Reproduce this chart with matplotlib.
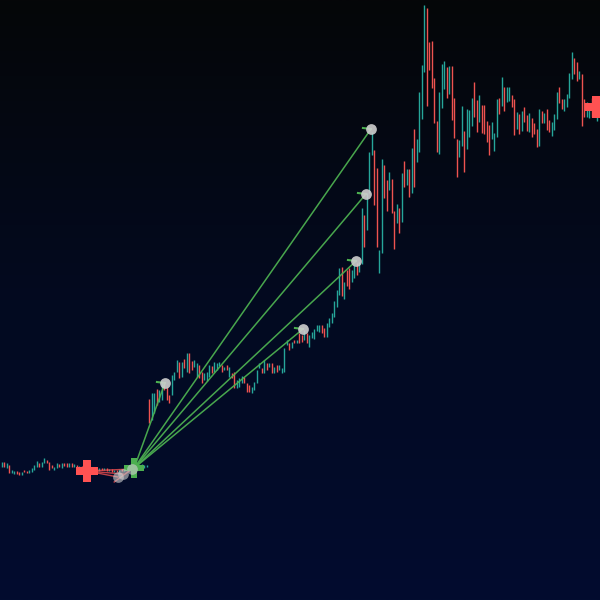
import numpy as np
import matplotlib.pyplot as plt
from matplotlib.colors import LinearSegmentedColormap

# candle data (open / close), one entry per bar
opens = [
    133, 138, 132, 135, 127, 126, 129, 128, 125, 130,
    129, 127, 128, 130, 133, 137, 133, 137, 140, 138,
    135, 130, 132, 136, 132, 137, 137, 133, 137, 133,
    135, 132, 134, 131, 133, 130, 132, 130, 131, 129,
    132, 130, 132, 129, 131, 128, 130, 128, 131, 129,
    132, 130, 133, 131, 134, 132, 133, 132, 133, 201,
    180, 187, 211, 198, 200, 217, 213, 205, 205, 220,
    228, 238, 223, 241, 228, 247, 239, 233, 223, 235,
    228, 220, 219, 223, 234, 228, 230, 234, 235, 230,
    235, 223, 227, 228, 212, 213, 217, 223, 217, 215,
    207, 210, 217, 232, 232, 227, 237, 233, 237, 227,
    235, 230, 227, 228, 255, 257, 252, 260, 257, 267,
    265, 260, 267, 253, 262, 261, 269, 268, 275, 272,
    263, 273, 277, 283, 293, 305, 333, 301, 330, 332,
    318, 322, 337, 328, 336, 385, 370, 407, 445, 450,
    432, 327, 347, 435, 420, 410, 421, 389, 377, 392,
    378, 439, 415, 431, 407, 471, 438, 448, 481, 528,
    592, 558, 559, 522, 479, 446, 492, 511, 533, 506,
    534, 502, 461, 443, 454, 469, 451, 463, 474, 518,
    500, 478, 495, 495, 479, 475, 461, 449, 463, 502,
    494, 513, 498, 499, 505, 501, 471, 486, 469, 493,
    485, 468, 482, 477, 471, 454, 489, 477, 491, 480,
    464, 470, 481, 513, 501, 489, 493, 502, 521, 542,
    538, 521, 526, 501, 483, 482, 502, 500, 479,
]
closes = [
    138, 133, 137, 127, 130, 129, 126, 125, 128, 128,
    127, 130, 132, 135, 139, 133, 138, 142, 137, 130,
    132, 133, 137, 133, 137, 134, 133, 137, 133, 136,
    132, 134, 131, 133, 130, 132, 130, 131, 129, 132,
    130, 132, 129, 131, 128, 130, 128, 131, 129, 132,
    130, 133, 131, 134, 132, 134, 136, 135, 135, 177,
    207, 207, 195, 210, 217, 210, 200, 197, 225, 228,
    240, 222, 238, 232, 247, 227, 230, 240, 237, 222,
    217, 227, 228, 235, 227, 238, 237, 238, 228, 233,
    230, 233, 222, 212, 220, 222, 224, 217, 208, 208,
    213, 218, 230, 237, 227, 240, 230, 237, 227, 233,
    228, 235, 232, 252, 260, 250, 258, 257, 260, 257,
    258, 270, 257, 265, 268, 271, 275, 275, 267, 263,
    277, 282, 287, 299, 310, 332, 304, 318, 314, 311,
    330, 335, 325, 338, 392, 353, 407, 448, 468, 395,
    353, 350, 441, 402, 389, 428, 387, 351, 396, 367,
    427, 413, 431, 403, 452, 413, 461, 508, 535, 595,
    494, 530, 512, 477, 448, 508, 536, 539, 502, 534,
    480, 462, 423, 460, 494, 428, 491, 490, 502, 483,
    468, 505, 467, 466, 458, 445, 478, 467, 501, 486,
    523, 489, 513, 513, 493, 465, 488, 466, 489, 478,
    469, 487, 463, 466, 453, 491, 477, 487, 470, 468,
    478, 486, 508, 497, 491, 501, 506, 527, 548, 526,
    519, 529, 474, 483, 498, 497, 483, 485, 490,
]

# signals
buy_idx, buy_price = 53, 132
target_idx = [65.3, 120.5, 141.7, 145.7, 147.7]
target_price = [217, 271, 339, 406, 471]
sell_idx = [34.1, 237.7]
sell_price = [129, 493]
exit_idx = [46.5, 48.5, 52.1]
exit_price = [123, 126, 131]

UP = "#26a69a"
DOWN = "#ef5350"

fig = plt.figure(figsize=(6, 6), dpi=100)
ax = fig.add_axes([0, 0, 1, 1])
xlim = (-0.68, 239.32)
ylim = (0, 600)
ax.set_xlim(*xlim)
ax.set_ylim(*ylim)
ax.axis("off")

# background gradient
bg = LinearSegmentedColormap.from_list("bg", ["#050608", "#030a20", "#020c2f"])
ax.imshow(np.linspace(0, 1, 256).reshape(-1, 1), cmap=bg, aspect="auto",
          extent=[xlim[0], xlim[1], ylim[0], ylim[1]], zorder=0)

o = np.array(opens)
c = np.array(closes)
x = np.arange(len(o))
cols = np.where(c > o, UP, DOWN)
ax.vlines(x, np.minimum(o, c), np.maximum(o, c), colors=cols, linewidth=1.0, zorder=2)

# lines from the buy signal to each target
for tx, tp in zip(target_idx, target_price):
    ax.plot([buy_idx, tx], [buy_price, tp], color="#4caf50", lw=1.1, alpha=0.95, zorder=3)
    ax.plot([tx - 3.2, tx], [tp + 1, tp], color="#4caf50", lw=1.5, zorder=3)

# red lines from the sell signal to the exits
for ex, ep in zip(exit_idx, exit_price):
    ax.plot([sell_idx[0], ex], [sell_price[0], ep], color="#ff5252", lw=1.0, alpha=0.75, zorder=3)
ax.plot([exit_idx[0] - 1.5, exit_idx[2]], [exit_price[0] - 5, exit_price[2]],
        color="#ff5252", lw=1.0, alpha=0.75, zorder=3)

ax.scatter(target_idx, target_price, s=60, color="#cfcfcf", alpha=0.9, zorder=4, linewidths=0)
ax.scatter(exit_idx, exit_price, s=60, color="#cfcfcf", alpha=0.6, zorder=5, linewidths=0)

ax.plot(buy_idx, buy_price, marker="P", markersize=15, color="#4caf50",
        markeredgewidth=0, linestyle="none", zorder=4)
ax.plot(sell_idx, sell_price, marker="P", markersize=16, color="#ff5252",
        markeredgewidth=0, linestyle="none", zorder=4)

fig.savefig("out.png", dpi=100)
